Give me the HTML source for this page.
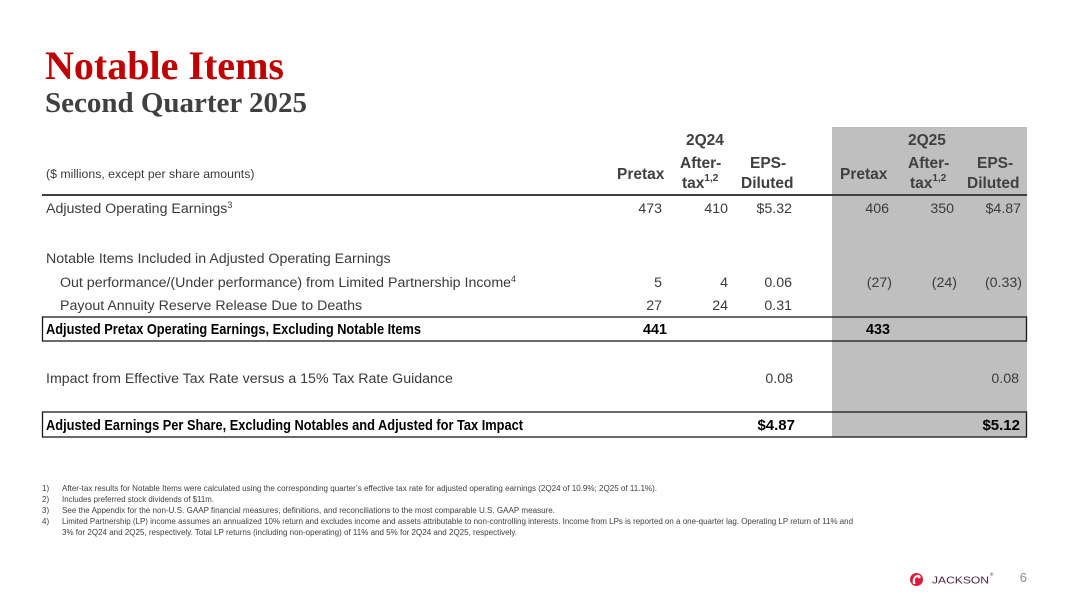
<!DOCTYPE html>
<html><head><meta charset="utf-8"><style>
html,body{margin:0;padding:0;background:#fff;}
svg{display:block;}
</style></head><body>
<svg width="1080" height="608" viewBox="0 0 1080 608" xmlns="http://www.w3.org/2000/svg">
<rect width="1080" height="608" fill="#fff"/>
<!-- Title -->
<text x="45" y="79" font-family="'Liberation Serif', serif" font-weight="bold" font-size="40" fill="#c00000" textLength="239" lengthAdjust="spacingAndGlyphs">Notable Items</text>
<text x="45" y="112" font-family="'Liberation Serif', serif" font-weight="bold" font-size="29" fill="#404040" textLength="262" lengthAdjust="spacingAndGlyphs">Second Quarter 2025</text>

<!-- gray panel -->
<rect x="832" y="127" width="195" height="310" fill="#bfbfbf"/>

<!-- header line -->
<line x1="42" y1="195" x2="1027" y2="195" stroke="#404040" stroke-width="2"/>

<g font-family="'Liberation Sans', sans-serif" font-weight="bold" font-size="15.5" fill="#404040">
<text x="686" y="145">2Q24</text>
<text x="680" y="168">After-</text>
<text x="682" y="188">tax<tspan font-size="10" dy="-7">1,2</tspan></text>
<text x="750" y="168">EPS-</text>
<text x="741" y="188">Diluted</text>
<text x="617" y="179">Pretax</text>
<text x="908" y="145">2Q25</text>
<text x="908" y="168">After-</text>
<text x="910" y="188">tax<tspan font-size="10" dy="-7">1,2</tspan></text>
<text x="977" y="168">EPS-</text>
<text x="967" y="188">Diluted</text>
<text x="840" y="179">Pretax</text>
</g>

<g font-family="'Liberation Sans', sans-serif" font-size="14.2" fill="#3b3b3b">
<text x="46" y="178" font-size="12.3">($ millions, except per share amounts)</text>
<text x="46" y="213">Adjusted Operating Earnings<tspan font-size="9" dy="-5">3</tspan></text>
<text x="46" y="263">Notable Items Included in Adjusted Operating Earnings</text>
<text x="60" y="287">Out performance/(Under performance) from Limited Partnership Income<tspan font-size="9" dy="-5">4</tspan></text>
<text x="60" y="310">Payout Annuity Reserve Release Due to Deaths</text>
<text x="46" y="383">Impact from Effective Tax Rate versus a 15% Tax Rate Guidance</text>
</g>

<g font-family="'Liberation Sans', sans-serif" font-size="14.2" fill="#3b3b3b" text-anchor="end">
<text x="662" y="213">473</text>
<text x="728" y="213">410</text>
<text x="792" y="213">$5.32</text>
<text x="889" y="213">406</text>
<text x="954" y="213">350</text>
<text x="1021" y="213">$4.87</text>

<text x="662" y="287">5</text>
<text x="728" y="287">4</text>
<text x="792" y="287">0.06</text>
<text x="892" y="287">(27)</text>
<text x="957" y="287">(24)</text>
<text x="1022" y="287">(0.33)</text>

<text x="662" y="310">27</text>
<text x="728" y="310">24</text>
<text x="792" y="310">0.31</text>

<text x="793" y="383">0.08</text>
<text x="1019" y="383">0.08</text>
</g>

<!-- boxes -->
<rect x="42.5" y="317" width="984" height="24" fill="none" stroke="#1a1a1a" stroke-width="1.3"/>
<rect x="42.5" y="412" width="984" height="25" fill="none" stroke="#1a1a1a" stroke-width="1.3"/>

<g font-family="'Liberation Sans', sans-serif" font-weight="bold" font-size="15" fill="#000">
<text x="46" y="334" textLength="375" lengthAdjust="spacingAndGlyphs">Adjusted Pretax Operating Earnings, Excluding Notable Items</text>
<text x="667" y="334" text-anchor="end" textLength="24" lengthAdjust="spacingAndGlyphs">441</text>
<text x="890" y="334" text-anchor="end" textLength="24" lengthAdjust="spacingAndGlyphs">433</text>
<text x="46" y="430" textLength="477" lengthAdjust="spacingAndGlyphs">Adjusted Earnings Per Share, Excluding Notables and Adjusted for Tax Impact</text>
<text x="795" y="430" text-anchor="end">$4.87</text>
<text x="1020" y="430" text-anchor="end">$5.12</text>
</g>

<!-- footnotes -->
<g font-family="'Liberation Sans', sans-serif" font-size="8" fill="#404040">
<text x="42" y="491">1)</text>
<text x="62" y="491" textLength="595" lengthAdjust="spacingAndGlyphs">After-tax results for Notable Items were calculated using the corresponding quarter’s effective tax rate for adjusted operating earnings (2Q24 of 10.9%; 2Q25 of 11.1%).</text>
<text x="42" y="502">2)</text>
<text x="62" y="502" textLength="152" lengthAdjust="spacingAndGlyphs">Includes preferred stock dividends of $11m.</text>
<text x="42" y="513">3)</text>
<text x="62" y="513" textLength="493" lengthAdjust="spacingAndGlyphs">See the Appendix for the non-U.S. GAAP financial measures, definitions, and reconciliations to the most comparable U.S. GAAP measure.</text>
<text x="42" y="524">4)</text>
<text x="62" y="524" textLength="791" lengthAdjust="spacingAndGlyphs">Limited Partnership (LP) income assumes an annualized 10% return and excludes income and assets attributable to non-controlling interests. Income from LPs is reported on a one-quarter lag. Operating LP return of 11% and</text>
<text x="62" y="535" textLength="455" lengthAdjust="spacingAndGlyphs">3% for 2Q24 and 2Q25, respectively.  Total LP returns (including non-operating) of 11% and 5% for 2Q24 and 2Q25, respectively.</text>
</g>

<!-- logo -->
<circle cx="916.5" cy="579.5" r="6.5" fill="#e31837"/>
<path d="M913 584 C912 580 913.5 576 917 575 C919.5 574.5 921 576 920.5 578 L918.5 578.5 C918 577 917 576.8 916 577.5 C914.8 578.5 914.8 581 915.5 584 Z" fill="#fff"/>
<text x="932" y="583.5" font-family="'Liberation Sans', sans-serif" font-size="10.5" fill="#4b2440" textLength="57" lengthAdjust="spacingAndGlyphs">JACKSON</text>
<text x="990" y="576" font-family="'Liberation Sans', sans-serif" font-size="4.5" fill="#4b2440">®</text>
<text x="1027" y="582" text-anchor="end" font-family="'Liberation Sans', sans-serif" font-size="13" fill="#8c8c8c">6</text>
</svg>
</body></html>
